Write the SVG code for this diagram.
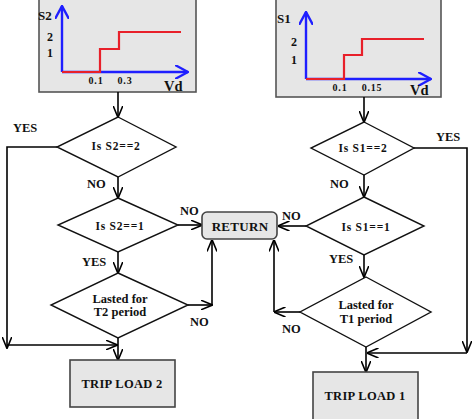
<svg xmlns="http://www.w3.org/2000/svg" width="474" height="419" viewBox="0 0 474 419">
<defs>
<marker id="ah" viewBox="0 0 12 10" refX="11.5" refY="5" markerWidth="12" markerHeight="10" markerUnits="userSpaceOnUse" orient="auto">
<path d="M0,0 L12,5 L0,10" fill="none" stroke="#000" stroke-width="1.6"/>
</marker>
<marker id="bh" viewBox="0 0 14 14" refX="13" refY="7" markerWidth="14" markerHeight="14" markerUnits="userSpaceOnUse" orient="auto">
<path d="M0,0 L13,7 L0,14" fill="none" stroke="#1f1fff" stroke-width="2.4"/>
</marker>
</defs>
<style>
text{font-family:"Liberation Serif","Times New Roman",serif;font-weight:bold;fill:#111;}
.lbl{font-size:12.5px;}
.dt{font-size:11.5px;letter-spacing:0.8px;text-anchor:middle;}
.lt{font-size:12.5px;text-anchor:middle;}
.bx{font-size:12.5px;letter-spacing:0.3px;text-anchor:middle;}
.ax{font-size:12px;}
.tk{font-size:10px;letter-spacing:0.8px;text-anchor:middle;}
.chart{fill:#e6e6e6;stroke:#555;stroke-width:1.6;}
.box{fill:#e6e6e6;stroke:#444;stroke-width:1.6;}
.dia{fill:#fff;stroke:#111;stroke-width:1.4;}
.axis{stroke:#1f1fff;stroke-width:2.4;fill:none;}
.step{stroke:#e8202a;stroke-width:2.2;fill:none;}
.c{stroke:#000;stroke-width:1.6;fill:none;}
.ca{stroke:#000;stroke-width:1.6;fill:none;marker-end:url(#ah);}
</style>

<g id="chart-s2">
<rect class="chart" x="39" y="-1" width="157" height="93"/>
<line class="axis" x1="62" y1="72" x2="62" y2="6" marker-end="url(#bh)"/>
<line class="axis" x1="62" y1="72" x2="188" y2="72" marker-end="url(#bh)"/>
<polyline class="step" points="62,72 100,72 100,49 119,49 119,32 181,32"/>
<text x="38" y="20" style="font-size:13px">S2</text>
<text class="ax" x="47" y="41">2</text>
<text class="ax" x="47" y="57">1</text>
<text class="tk" x="96" y="84">0.1</text>
<text class="tk" x="125" y="84">0.3</text>
<text x="164" y="91" style="font-size:14.5px">Vd</text>
</g>

<g id="chart-s1">
<rect class="chart" x="276" y="-1" width="165" height="98"/>
<line class="axis" x1="306" y1="79" x2="306" y2="12" marker-end="url(#bh)"/>
<line class="axis" x1="306" y1="79" x2="431" y2="79" marker-end="url(#bh)"/>
<polyline class="step" points="306,79 344,79 344,55 362,55 362,39 424,39"/>
<text x="277" y="23" style="font-size:13px">S1</text>
<text class="ax" x="291" y="46">2</text>
<text class="ax" x="291" y="64">1</text>
<text class="tk" x="340" y="91">0.1</text>
<text class="tk" x="372" y="91">0.15</text>
<text x="410" y="95" style="font-size:14.5px">Vd</text>
</g>

<g id="connectors">
<line class="ca" x1="118" y1="92" x2="118" y2="117"/>
<polyline class="ca" points="57,147 7,147 7,348"/>
<line class="ca" x1="7" y1="345" x2="117" y2="345"/>
<line class="ca" x1="118" y1="177" x2="118" y2="198"/>
<line class="ca" x1="178" y1="225" x2="202" y2="225"/>
<line class="ca" x1="118" y1="252" x2="118" y2="273"/>
<line class="ca" x1="188" y1="305" x2="212" y2="305"/>
<line class="ca" x1="212" y1="305" x2="212" y2="240"/>
<line class="ca" x1="118" y1="338" x2="118" y2="360"/>

<line class="ca" x1="364" y1="97" x2="364" y2="122"/>
<polyline class="ca" points="414,148 467,148 467,352"/>
<line class="ca" x1="467" y1="353" x2="367" y2="353"/>
<line class="ca" x1="364" y1="175" x2="364" y2="197"/>
<line class="ca" x1="306" y1="226" x2="278" y2="226"/>
<line class="ca" x1="364" y1="255" x2="364" y2="277"/>
<line class="ca" x1="300" y1="312" x2="274" y2="312"/>
<line class="ca" x1="274" y1="312" x2="274" y2="240"/>
<line class="ca" x1="366" y1="347" x2="366" y2="372"/>

<text class="lbl" x="13" y="132">YES</text>
<text class="lbl" x="87" y="188">NO</text>
<text class="lbl" x="180" y="215">NO</text>
<text class="lbl" x="82" y="266">YES</text>
<text class="lbl" x="190" y="326">NO</text>
<text class="lbl" x="436" y="141">YES</text>
<text class="lbl" x="330" y="188">NO</text>
<text class="lbl" x="282" y="220">NO</text>
<text class="lbl" x="329" y="263">YES</text>
<text class="lbl" x="282" y="333">NO</text>
</g>

<g id="d-s2-2">
<polygon class="dia" points="118,117 176,147 118,177 57,147"/>
<text class="dt" x="116" y="150">Is S2==2</text>
</g>
<g id="d-s2-1">
<polygon class="dia" points="118,198 178,225 118,252 58,225"/>
<text class="dt" x="120" y="230">Is S2==1</text>
</g>
<g id="d-t2">
<polygon class="dia" points="118,273 188,305 118,338 51,305"/>
<text class="lt" x="120" y="303">Lasted for</text>
<text class="lt" x="120" y="316">T2 period</text>
</g>
<g id="trip2">
<rect class="box" x="70" y="360" width="105" height="47"/>
<text class="bx" x="122" y="388">TRIP LOAD 2</text>
</g>

<g id="return">
<rect class="box" x="202" y="212" width="75" height="27" rx="5"/>
<text class="bx" x="240" y="231" style="font-size:13px">RETURN</text>
</g>

<g id="d-s1-2">
<polygon class="dia" points="364,122 414,148 364,175 311,148"/>
<text class="dt" x="363" y="152">Is S1==2</text>
</g>
<g id="d-s1-1">
<polygon class="dia" points="364,197 424,226 364,255 306,226"/>
<text class="dt" x="366" y="231">Is S1==1</text>
</g>
<g id="d-t1">
<polygon class="dia" points="366,277 431,312 366,347 300,312"/>
<text class="lt" x="366" y="309">Lasted for</text>
<text class="lt" x="366" y="323">T1 period</text>
</g>
<g id="trip1">
<rect class="box" x="313" y="372" width="105" height="48"/>
<text class="bx" x="365" y="400">TRIP LOAD 1</text>
</g>
</svg>
